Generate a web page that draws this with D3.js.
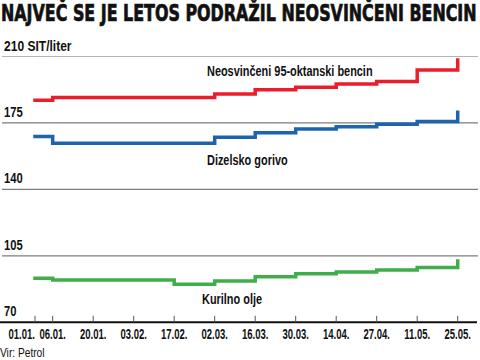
<!DOCTYPE html>
<html>
<head>
<meta charset="utf-8">
<script src="https://cdn.jsdelivr.net/npm/d3@7"></script>
<style>
  html, body { margin: 0; padding: 0; background: #fff; }
  svg { display: block; }
  text { font-family: "Liberation Sans", Arial, sans-serif; fill: #111; }
</style>
</head>
<body>
<svg id="chart" width="480" height="360"></svg>
<script>
const titleText = "NAJVEČ SE JE LETOS PODRAŽIL NEOSVINČENI BENCIN";
const unitLabel = "SIT/liter";
const sourceText = "Vir: Petrol";
const dateLabels = ["01.01.","06.01.","20.01.","03.02.","17.02.","02.03.","16.03.","30.03.","14.04.","27.04.","11.05.","25.05."];
const yTicks = [70, 105, 140, 175, 210];
const seriesNames = ["Neosvinčeni 95-oktanski bencin", "Dizelsko gorivo", "Kurilno olje"];
const bencin  = [187.0, 188.4, 188.4, 188.4, 188.4, 190.2, 192.5, 193.8, 195.5, 196.8, 202.9, 208.2];
const dizel   = [167.8, 164.3, 164.3, 164.3, 164.3, 167.5, 169.9, 171.8, 173.0, 174.3, 175.8, 180.6];
const kurilno = [93.2, 92.3, 92.3, 92.3, 90.0, 91.8, 94.0, 95.6, 96.5, 97.5, 98.8, 102.3];
const seriesColors = ["#ec1c2a", "#1c63b0", "#3fae4a"];

const svg = d3.select("#chart");

// scales: first interval is narrower, the rest equally spaced
const x = d3.scaleLinear().domain([0, 1, dateLabels.length - 1]).range([35, 52.7, 457.7]);
const y = d3.scaleLinear().domain([70, 210]).range([322.3, 56.5]);

// condensed text helper (horizontal squeeze)
function ctext(parent, tx, ty, str, opts) {
  const o = Object.assign({size: 14, weight: "bold", anchor: "start", sx: 0.8}, opts || {});
  return parent.append("text")
    .attr("transform", `translate(${tx},${ty}) scale(${o.sx},1)`)
    .attr("text-anchor", o.anchor)
    .style("font-size", o.size + "px")
    .style("font-weight", o.weight)
    .text(str);
}

// title (heavy condensed)
const titleSel = svg.append("text")
  .attr("x", 0).attr("y", 0)
  .style("font-family", "'DejaVu Sans Condensed', 'DejaVu Sans', sans-serif")
  .style("font-size", "23px").style("font-weight", "bold")
  .style("stroke", "#111").style("stroke-width", "0.7px")
  .text(titleText);
const natW = titleSel.node().getComputedTextLength();
titleSel.attr("transform", `translate(1,21) scale(${476 / natW},1)`);

// gridlines
svg.append("g").selectAll("line")
  .data(yTicks.filter(d => d !== 70))
  .join("line")
  .attr("x1", 2).attr("x2", 478)
  .attr("y1", d => y(d)).attr("y2", d => y(d))
  .attr("stroke", d => d === 210 ? "#b4b4b4" : "#7c7c7c")
  .attr("stroke-width", 1.2);

// y labels
const gy = svg.append("g");
yTicks.forEach(d => {
  ctext(gy, 4, y(d) - 6, d === 210 ? d + " " + unitLabel : String(d), {size: 14, sx: d === 210 ? 0.86 : 0.8});
});

// x axis baseline
svg.append("line")
  .attr("x1", 0).attr("x2", 477)
  .attr("y1", y(70)).attr("y2", y(70))
  .attr("stroke", "#111").attr("stroke-width", 2);

// tick marks
svg.append("g").selectAll("line")
  .data(dateLabels)
  .join("line")
  .attr("x1", (d, i) => x(i)).attr("x2", (d, i) => x(i))
  .attr("y1", y(70) - 6.5).attr("y2", y(70))
  .attr("stroke", "#555").attr("stroke-width", 1);

// tick labels
const gx = svg.append("g");
dateLabels.forEach((d, i) => {
  ctext(gx, x(i), 339, d, {size: 14, sx: 0.68, anchor: i === 0 ? "end" : "middle"});
});

// series lines
const line = d3.line()
  .x((d, i) => x(i))
  .y(d => y(d))
  .curve(d3.curveStepAfter);

[bencin, dizel, kurilno].forEach((s, k) => {
  svg.append("path")
    .datum(s)
    .attr("d", line)
    .attr("fill", "none")
    .attr("stroke", seriesColors[k])
    .attr("stroke-width", 3.5)
    .attr("stroke-linecap", "square")
    .attr("stroke-linejoin", "miter");
});

// series labels
const labelPos = [[207, 75.7], [207, 165], [202, 304]];
const gl = svg.append("g");
seriesNames.forEach((d, i) => {
  ctext(gl, labelPos[i][0], labelPos[i][1], d, {size: 14, sx: 0.78});
});

// source
ctext(svg, 0, 357, sourceText, {size: 12, weight: "normal", sx: 0.85});
</script>
</body>
</html>
